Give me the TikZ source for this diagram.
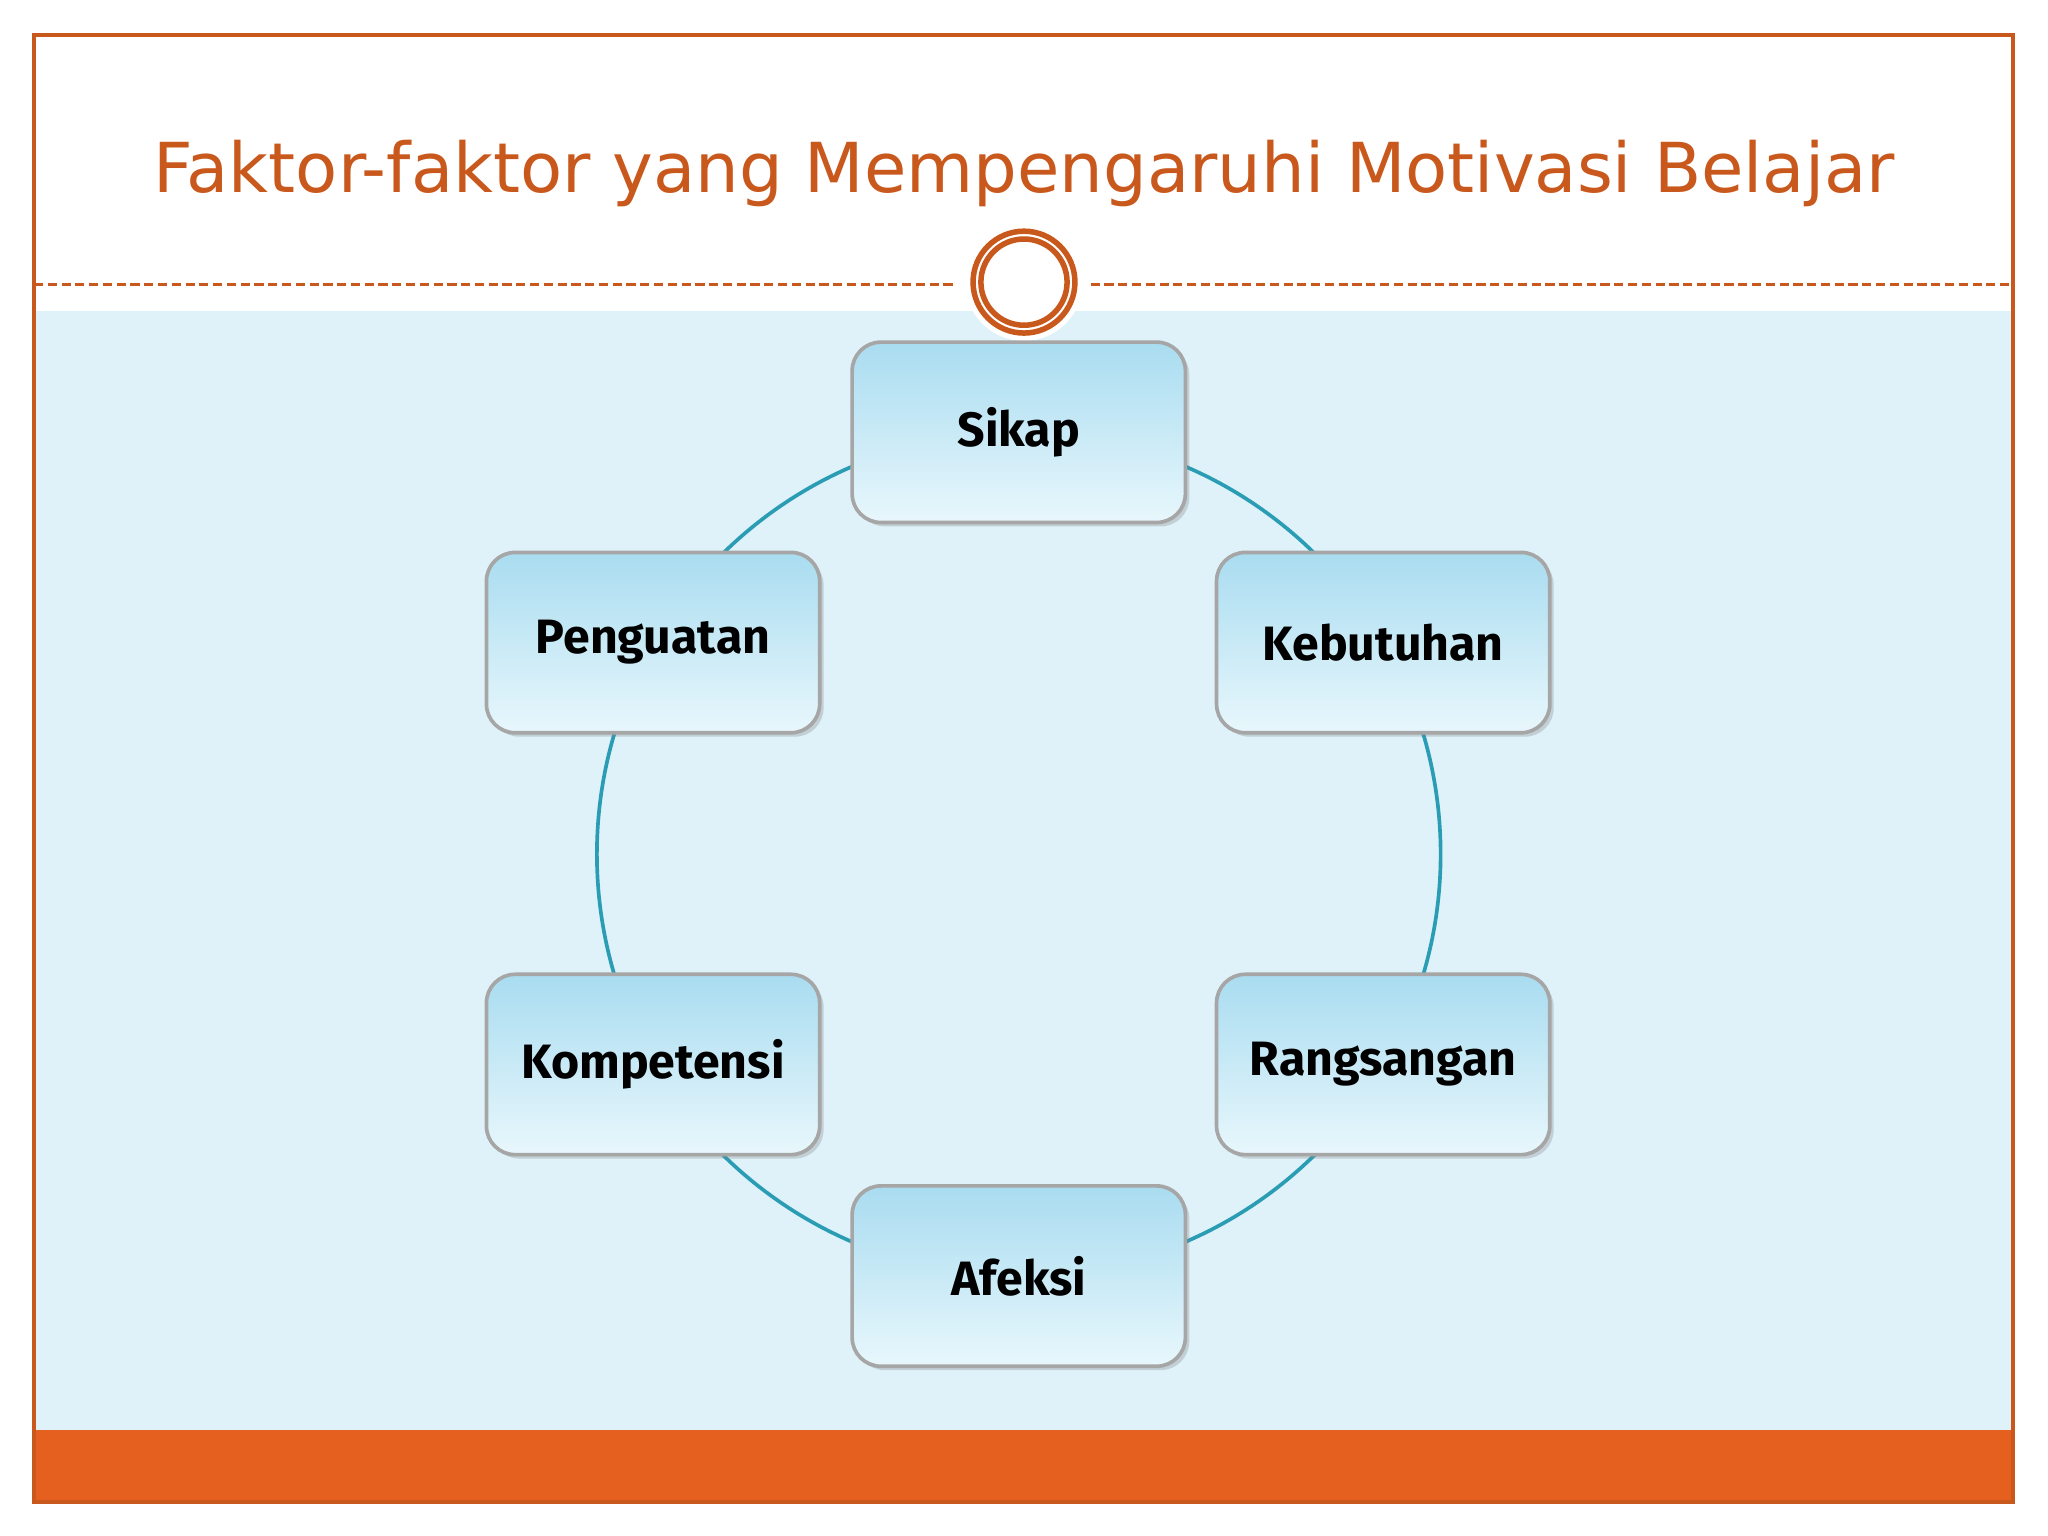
\documentclass[tikz,border=0pt]{standalone}
\usepackage{fontspec}
\setmainfont{DejaVu Sans}
\newfontfamily\boxfont{Fira Sans}
\usetikzlibrary{shadows}
\definecolor{orn}{HTML}{C9581C}
\definecolor{bar}{HTML}{E5601E}
\definecolor{bg}{HTML}{DFF2FA}
\definecolor{ring}{HTML}{2A9DB5}
\definecolor{boxtop}{HTML}{A9DCF0}
\definecolor{boxbot}{HTML}{E8F7FC}
\tikzset{
  fbox/.style={draw=gray!70, line width=0.8pt, rounded corners=0.22cm, minimum width=2.55cm, minimum height=1.38cm, inner sep=1pt,
    top color=boxtop, bottom color=boxbot, drop shadow={opacity=0.3, shadow xshift=0.03cm, shadow yshift=-0.03cm},
    font=\boxfont\bfseries\fontsize{10.5}{13}\selectfont, text=black}
}
\begin{document}
\begin{tikzpicture}[x=0.01cm,y=-0.01cm]
\useasboundingbox (0,0) rectangle (1568,1176);
\fill[white] (0,0) rectangle (1568,1176);
\fill[bg] (26,238) rectangle (1541,1095);
\fill[bar] (26,1095) rectangle (1541,1150);
\draw[orn, line width=0.8pt] (26,27) rectangle (1541,1150);
\node[text=orn, font=\fontsize{15}{18}\selectfont] (title) at (784,133) {Faktor-faktor yang Mempengaruhi Motivasi Belajar};
\coordinate (dl1) at (26,218); \coordinate (dl2) at (730,218);
\coordinate (dr1) at (835,218); \coordinate (dr2) at (1541,218);
\draw[orn, dash pattern=on 2pt off 1pt, line width=0.6pt] (dl1) -- (dl2);
\draw[orn, dash pattern=on 2pt off 1pt, line width=0.6pt] (dr1) -- (dr2);
\node[circle, fill=white, minimum size=0.9cm] (c0) at (784,216) {};
\draw[orn, line width=1.2pt] (784,216) circle (39);
\draw[orn, line width=1.2pt] (784,216) circle (33);
\draw[ring, line width=0.8pt] (780,654) circle (323);
\node[fbox] (s) at (780,331) {Sikap};
\node[fbox] (p) at (500,492) {Penguatan};
\node[fbox] (k) at (1059,492) {Kebutuhan};
\node[fbox] (ko) at (500,815) {Kompetensi};
\node[fbox] (r) at (1059,815) {Rangsangan};
\node[fbox] (a) at (780,977) {Afeksi};
\end{tikzpicture}
\end{document}
